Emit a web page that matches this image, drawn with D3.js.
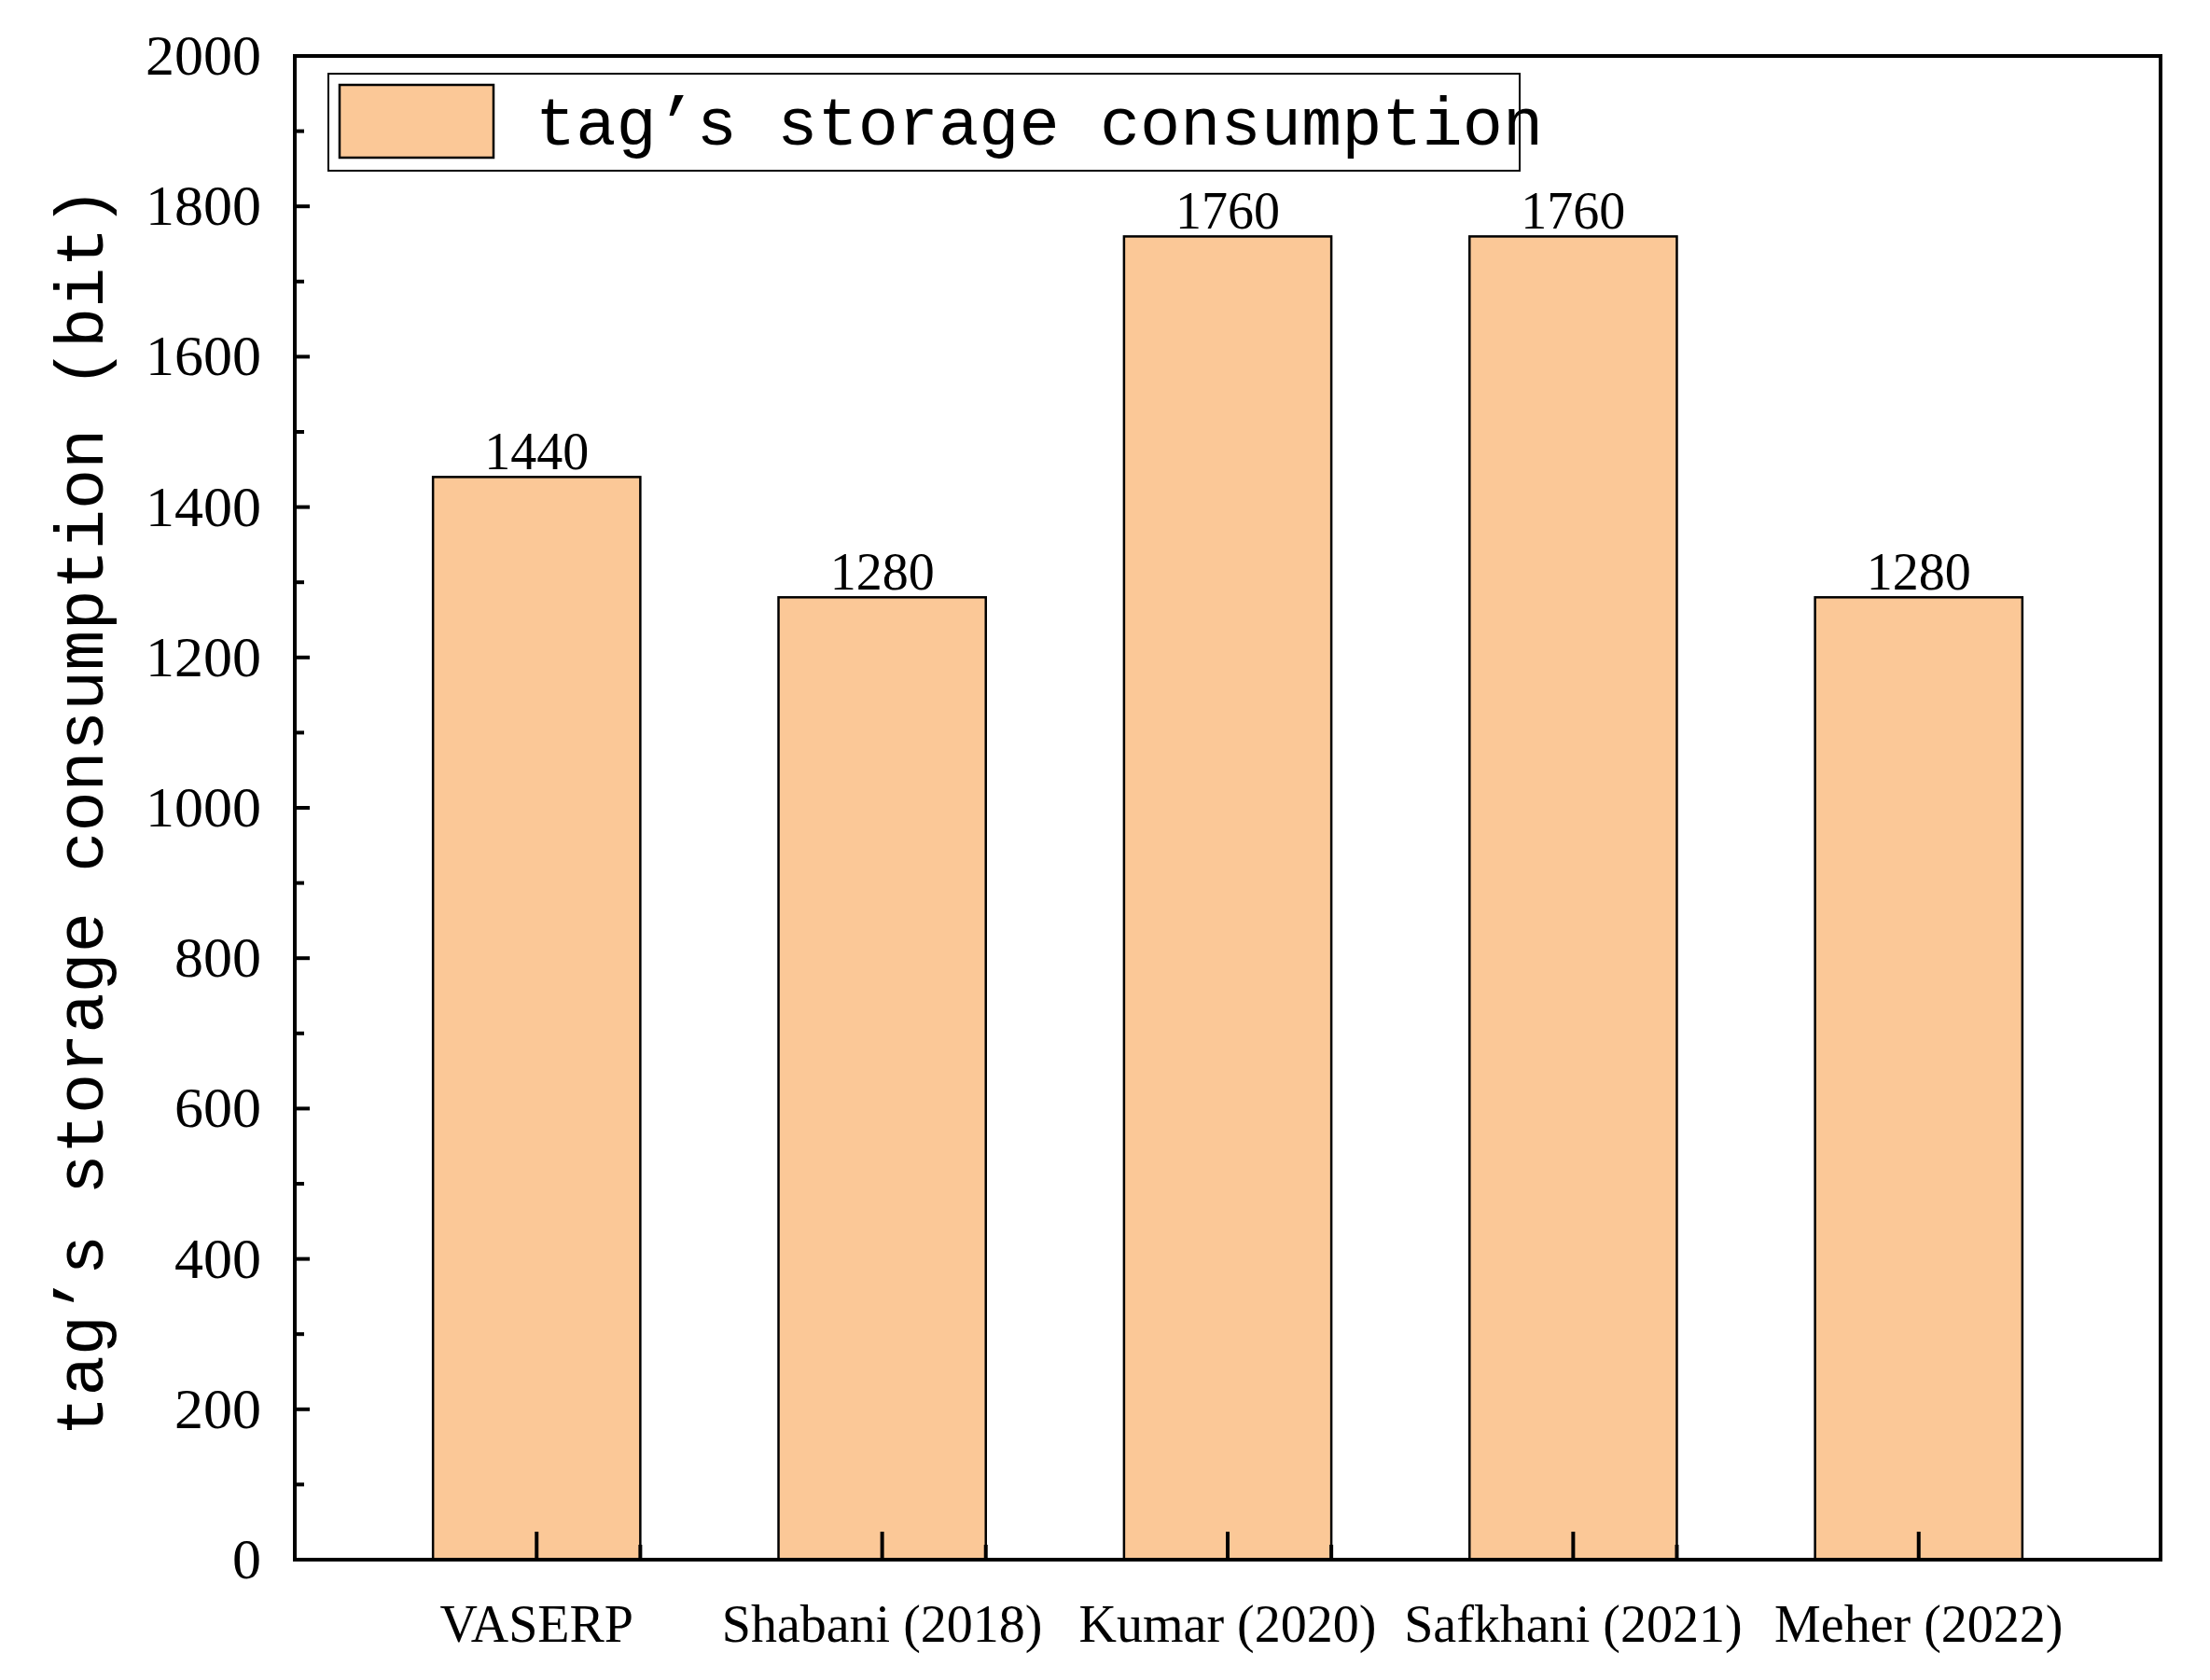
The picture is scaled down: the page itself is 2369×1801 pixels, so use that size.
<!DOCTYPE html>
<html><head><meta charset="utf-8">
<script src="https://cdn.jsdelivr.net/npm/d3@7"></script>
<style>body{margin:0;background:#fff}</style></head>
<body><svg id="c" width="2369" height="1801"></svg>
<script>
const categories = ['VASERP', 'Shabani (2018)', 'Kumar (2020)', 'Safkhani (2021)', 'Meher (2022)']
const values = [1440, 1280, 1760, 1760, 1280]
const yTicks = [0, 200, 400, 600, 800, 1000, 1200, 1400, 1600, 1800, 2000]

const plotL = 316, plotR = 2316, plotT = 60, plotB = 1672
const svg = d3.select('#c')
const x = d3.scaleBand().domain(categories).range([plotL, plotR]).padding(0.4)
const y = d3.scaleLinear().domain([0, 2000]).range([plotB, plotT])
const serif = 'Liberation Serif'
const mono = 'Liberation Mono'

svg.selectAll('.bar').data(values).enter().append('rect')
  .attr('x', (d, i) => x(categories[i]))
  .attr('y', d => y(d))
  .attr('width', x.bandwidth())
  .attr('height', d => plotB - y(d))
  .attr('fill', '#fbc897').attr('stroke', '#000').attr('stroke-width', 2.5)

svg.selectAll('.val').data(values).enter().append('text')
  .attr('x', (d, i) => x(categories[i]) + x.bandwidth() / 2)
  .attr('y', d => y(d) - 8)
  .attr('text-anchor', 'middle').attr('font-family', serif).attr('font-size', 56)
  .text(d => d)

// frame
svg.append('rect').attr('x', plotL).attr('y', plotT).attr('width', plotR - plotL).attr('height', plotB - plotT)
  .attr('fill', 'none').attr('stroke', '#000').attr('stroke-width', 4)

// y ticks
const minor = d3.range(100, 2000, 200)
svg.selectAll('.yt').data(yTicks).enter().append('line')
  .attr('x1', plotL).attr('x2', plotL + 16).attr('y1', d => y(d)).attr('y2', d => y(d))
  .attr('stroke', '#000').attr('stroke-width', 4)
svg.selectAll('.ym').data(minor).enter().append('line')
  .attr('x1', plotL).attr('x2', plotL + 10).attr('y1', d => y(d)).attr('y2', d => y(d))
  .attr('stroke', '#000').attr('stroke-width', 4)
svg.selectAll('.yl').data(yTicks).enter().append('text')
  .attr('x', plotL - 36).attr('y', d => y(d) + 20)
  .attr('text-anchor', 'end').attr('font-family', serif).attr('font-size', 62)
  .text(d => d)

// x ticks
const step = x.step()
svg.selectAll('.xt').data(categories).enter().append('line')
  .attr('x1', d => x(d) + x.bandwidth() / 2).attr('x2', d => x(d) + x.bandwidth() / 2)
  .attr('y1', plotB).attr('y2', plotB - 30).attr('stroke', '#000').attr('stroke-width', 4)
svg.selectAll('.xm').data(d3.range(1, categories.length)).enter().append('line')
  .attr('x1', i => plotL + i * step).attr('x2', i => plotL + i * step)
  .attr('y1', plotB).attr('y2', plotB - 16).attr('stroke', '#000').attr('stroke-width', 4)
svg.selectAll('.xl').data(categories).enter().append('text')
  .attr('x', d => x(d) + x.bandwidth() / 2).attr('y', 1760)
  .attr('text-anchor', 'middle').attr('font-family', serif).attr('font-size', 56)
  .text(d => d)

// y label
svg.append('text')
  .attr('transform', 'translate(110,870) rotate(-90)')
  .attr('text-anchor', 'middle').attr('font-family', mono).attr('font-size', 72)
  .text('tag’s storage consumption (bit)')

// legend
svg.append('rect').attr('x', 352).attr('y', 79).attr('width', 1277).attr('height', 104)
  .attr('fill', '#fff').attr('stroke', '#000').attr('stroke-width', 2)
svg.append('rect').attr('x', 364).attr('y', 91).attr('width', 165).attr('height', 78)
  .attr('fill', '#fbc897').attr('stroke', '#000').attr('stroke-width', 2.5)
svg.append('text').attr('x', 574).attr('y', 155)
  .attr('font-family', mono).attr('font-size', 72)
  .text('tag’s storage consumption')
</script></body></html>
